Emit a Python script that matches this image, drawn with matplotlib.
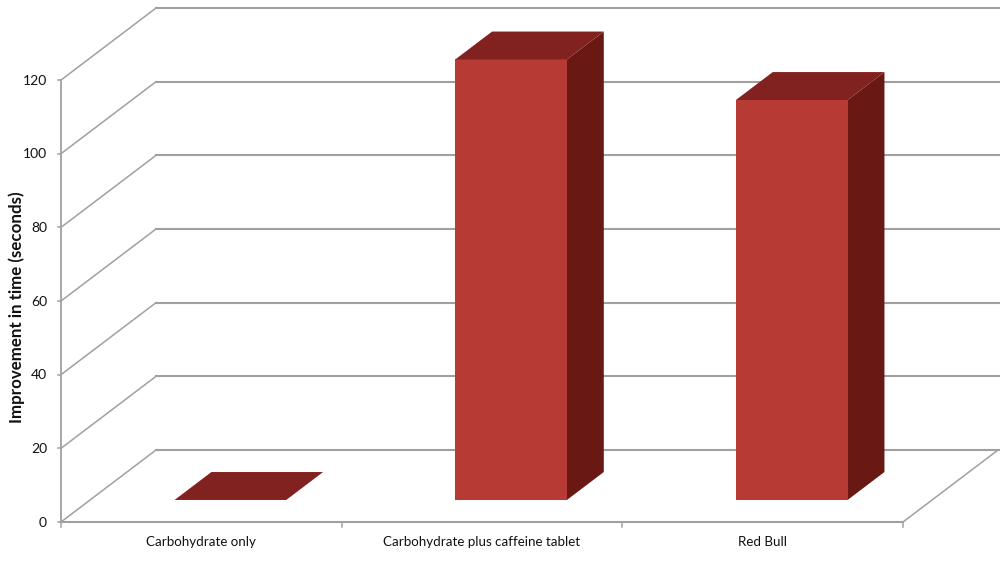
import matplotlib
matplotlib.use("Agg")
import matplotlib.pyplot as plt
from matplotlib.patches import Polygon

plt.rcParams["font.family"] = ["Lato", "DejaVu Sans"]

categories = ["Carbohydrate only", "Carbohydrate plus caffeine tablet", "Red Bull"]
improvement = [0, 119.6, 108.6]
y_ticks = [0, 20, 40, 60, 80, 100, 120]

GRID = "#a0a0a0"
FRONT = "#b83a34"
TOP = "#822220"
SIDE = "#6a1814"

# scale of the picture: one category = 280.67 px, one second = 3.683 px
PX_X = 280.67
PX_Y = 3.683
DEPTH_X = 95 / PX_X   # how far the back wall is shifted, in data units
DEPTH_Y = 72 / PX_Y
BAR_W = 0.398
BAR_NEAR = 0.306      # bar position between front edge (0) and back wall (1)
BAR_FAR = 0.694


def proj(x, y, depth):
    # fake oblique projection of the excel 3d chart
    return x + depth * DEPTH_X, y + depth * DEPTH_Y


fig = plt.figure(figsize=(10, 5.62), dpi=100)
ax = fig.add_axes([0, 0, 1, 1])
ax.set_xlim(-61 / PX_X, 939 / PX_X)
ax.set_ylim(-40 / PX_Y, 522 / PX_Y)
ax.axis("off")

n = len(categories)

# walls and floor
for t in y_ticks:
    x0, y0 = proj(0, t, 0)
    x1, y1 = proj(0, t, 1)
    ax.plot([x0, x1], [y0, y1], color=GRID, lw=1.1, zorder=1)
    ax.plot([x1, 4], [y1, y1], color=GRID, lw=1.5, zorder=1)
    ax.plot([-3 / PX_X, 0], [t, t], color=GRID, lw=1.1, zorder=1)
    ax.text(-14 / PX_X, t - 0.2, str(t), ha="right", va="center", fontsize=10, color="#111111")

ax.plot([0, 0], [0, y_ticks[-1]], color=GRID, lw=1.3, zorder=1)
ax.plot([0, n], [0, 0], color=GRID, lw=1.5, zorder=1)
x1, y1 = proj(n, 0, 1)
ax.plot([n, x1], [0, y1], color=GRID, lw=1.1, zorder=1)
for i in range(n + 1):
    ax.plot([i, i], [0, -5 / PX_Y], color=GRID, lw=1.1, zorder=1)

# bars
for i, (name, val) in enumerate(zip(categories, improvement)):
    c = i + 0.5
    l, r = c - BAR_W / 2, c + BAR_W / 2
    top = [proj(l, val, BAR_NEAR), proj(r, val, BAR_NEAR), proj(r, val, BAR_FAR), proj(l, val, BAR_FAR)]
    side = [proj(r, 0, BAR_NEAR), proj(r, 0, BAR_FAR), proj(r, val, BAR_FAR), proj(r, val, BAR_NEAR)]
    front = [proj(l, 0, BAR_NEAR), proj(r, 0, BAR_NEAR), proj(r, val, BAR_NEAR), proj(l, val, BAR_NEAR)]
    ax.add_patch(Polygon(side, closed=True, fc=SIDE, ec="none", zorder=3))
    ax.add_patch(Polygon(front, closed=True, fc=FRONT, ec="none", zorder=3))
    ax.add_patch(Polygon(top, closed=True, fc=TOP, ec="none", zorder=3))
    ax.text(c, -20 / PX_Y, name, ha="center", va="center", fontsize=9.6, color="#111111")

ax.text(-44 / PX_X, 215 / PX_Y, "Improvement in time (seconds)", rotation=90,
        ha="center", va="center", fontsize=12.2, fontweight="bold", color="#111111")

plt.savefig("out.png", dpi=100)
plt.close()
